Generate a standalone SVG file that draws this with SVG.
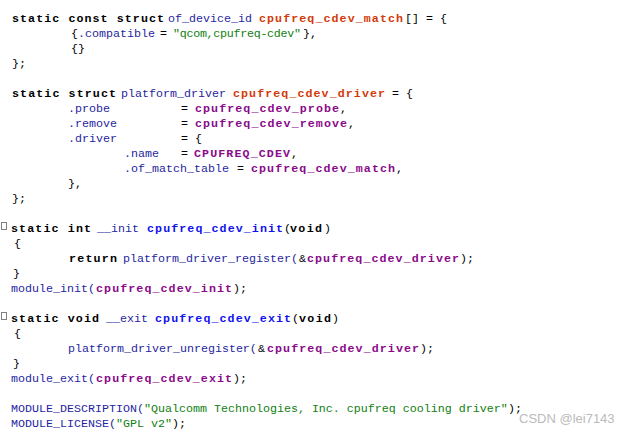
<svg xmlns="http://www.w3.org/2000/svg" width="624" height="433" viewBox="0 0 624 433">
<style>
text{font-family:"Liberation Mono","DejaVu Sans Mono",monospace;font-size:11.67px;fill:#000;white-space:pre}
.b{font-weight:bold}
.k{fill:#1f1f9f}
.r{fill:#d33a0a;font-weight:bold}
.p{fill:#8a0a8a;font-weight:bold}
.f{fill:#1212ee;font-weight:bold}
.s{fill:#108010}
.w{font-family:"Liberation Sans",Arial,sans-serif;font-size:13px;fill:#bbb}
.fold{fill:none;stroke:#000;stroke-width:1;stroke-dasharray:1 1}
</style>
<rect width="624" height="433" fill="#fff"/>
<g id="code">
<text y="22"><tspan x="12" class="b" textLength="152">static const struct</tspan><tspan x="168" class="k">of_device_id</tspan><tspan x="259" class="r" textLength="144">cpufreq_cdev_match</tspan><tspan x="405">[] = {</tspan></text>
<text y="37"><tspan x="71">{</tspan><tspan x="78" class="k">.compatible</tspan><tspan x="160">=</tspan><tspan x="173" class="s" textLength="128">"qcom,cpufreq-cdev"</tspan><tspan x="303">},</tspan></text>
<text y="52" x="71">{}</text>
<text y="67" x="12">};</text>
<text y="97"><tspan x="12" class="b" textLength="104">static struct</tspan><tspan x="121" class="k">platform_driver</tspan><tspan x="233" class="r" textLength="152">cpufreq_cdev_driver</tspan><tspan x="392">= {</tspan></text>
<text y="112"><tspan x="68" class="k">.probe</tspan><tspan x="181">=</tspan><tspan x="195" class="p" textLength="144">cpufreq_cdev_probe</tspan><tspan x="340">,</tspan></text>
<text y="127"><tspan x="68" class="k">.remove</tspan><tspan x="181">=</tspan><tspan x="195" class="p" textLength="152">cpufreq_cdev_remove</tspan><tspan x="348">,</tspan></text>
<text y="142"><tspan x="68" class="k">.driver</tspan><tspan x="181">= {</tspan></text>
<text y="157"><tspan x="124" class="k">.name</tspan><tspan x="181">=</tspan><tspan x="194" class="p" textLength="96">CPUFREQ_CDEV</tspan><tspan x="291">,</tspan></text>
<text y="172"><tspan x="124" class="k">.of_match_table</tspan><tspan x="237">=</tspan><tspan x="251" class="p" textLength="144">cpufreq_cdev_match</tspan><tspan x="396">,</tspan></text>
<text y="187" x="68">},</text>
<text y="202" x="12">};</text>
<rect class="fold" x="1.5" y="222.5" width="5" height="7"/>
<text y="232"><tspan x="11" class="b" textLength="80">static int</tspan><tspan x="97" class="k">__init</tspan><tspan x="147" class="f" textLength="136">cpufreq_cdev_init</tspan><tspan x="284">(</tspan><tspan x="290" class="b" textLength="32">void</tspan><tspan x="324">)</tspan></text>
<text y="247" x="14">{</text>
<text y="262"><tspan x="69" class="b" textLength="48">return</tspan><tspan x="123" class="k">platform_driver_register(</tspan><tspan x="299">&amp;</tspan><tspan x="307" class="p" textLength="152">cpufreq_cdev_driver</tspan><tspan x="460">);</tspan></text>
<text y="277" x="13">}</text>
<text y="292"><tspan x="11" class="k">module_init(</tspan><tspan x="96" class="p" textLength="136">cpufreq_cdev_init</tspan><tspan x="233">);</tspan></text>
<rect class="fold" x="1.5" y="312.5" width="5" height="7"/>
<text y="322"><tspan x="11" class="b" textLength="88">static void</tspan><tspan x="106" class="k">__exit</tspan><tspan x="155" class="f" textLength="136">cpufreq_cdev_exit</tspan><tspan x="292">(</tspan><tspan x="299" class="b" textLength="32">void</tspan><tspan x="332">)</tspan></text>
<text y="337" x="14">{</text>
<text y="352"><tspan x="68" class="k">platform_driver_unregister(</tspan><tspan x="258">&amp;</tspan><tspan x="267" class="p" textLength="152">cpufreq_cdev_driver</tspan><tspan x="420">);</tspan></text>
<text y="367" x="13">}</text>
<text y="382"><tspan x="11" class="k">module_exit(</tspan><tspan x="96" class="p" textLength="136">cpufreq_cdev_exit</tspan><tspan x="233">);</tspan></text>
<text y="412"><tspan x="11" class="k">MODULE_DESCRIPTION(</tspan><tspan x="144" class="s">"Qualcomm Technologies, Inc. cpufreq cooling driver"</tspan><tspan x="508">);</tspan></text>
<text y="427"><tspan x="11" class="k">MODULE_LICENSE(</tspan><tspan x="116" class="s">"GPL v2"</tspan><tspan x="172">);</tspan></text>
</g>
<text class="w" x="519" y="423">CSDN @lei7143</text>
</svg>
